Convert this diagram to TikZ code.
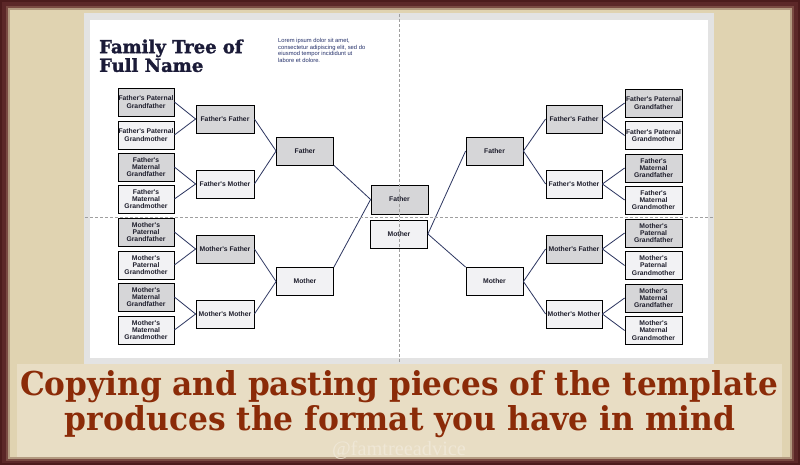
\documentclass[tikz,border=0pt]{standalone}
\usepackage{fontspec}
\setmainfont{Liberation Serif}
\newfontfamily\boxfont{Liberation Sans}
\newfontfamily\titlefont[BoldFeatures={FakeBold=1.6}]{DejaVu Serif}
\newfontfamily\capfont{DejaVu Serif}
\definecolor{maroonA}{HTML}{4C1B1C}
\definecolor{maroonB}{HTML}{5C2728}
\definecolor{maroonC}{HTML}{7A4A42}
\definecolor{maroonD}{HTML}{B39A80}
\definecolor{beigebg}{HTML}{E0D3B1}
\definecolor{bandbg}{HTML}{E8DDC4}
\definecolor{framegray}{HTML}{E3E3E3}
\definecolor{malefill}{HTML}{D6D6D8}
\definecolor{femfill}{HTML}{F2F2F4}
\definecolor{boxtext}{HTML}{1E1E2C}
\definecolor{linkcol}{HTML}{2C3560}
\definecolor{titlecol}{HTML}{1B1B38}
\definecolor{loremcol}{HTML}{24306A}
\definecolor{capcol}{HTML}{8B2B08}
\definecolor{wmcol}{HTML}{EFE7D6}
\begin{document}
\begin{tikzpicture}[x=1pt,y=-1pt,
  basebox/.style={draw=black, line width=0.8pt, minimum width=56pt, minimum height=28pt,
    inner sep=0pt, align=center, text=boxtext,
    font=\boxfont\bfseries\fontsize{6.8}{7.4}\selectfont},
  malebox/.style={basebox, fill=malefill},
  femalebox/.style={basebox, fill=femfill},
  link/.style={draw=linkcol, line width=0.8pt},
  guide/.style={draw=gray!75, line width=0.5pt, dash pattern=on 3pt off 2pt}]
\useasboundingbox (0,0) rectangle (800,465);
% border and background
\fill[maroonA] (0,0) rectangle (800,465);
\fill[maroonB] (2,2) rectangle (798,463);
\fill[maroonC] (6,6) rectangle (794,461);
\fill[maroonD] (8,8) rectangle (792,459);
\fill[beigebg] (10,10) rectangle (790,457);
% page
\fill[framegray] (84,13) rectangle (714,364);
\fill[white] (90,20) rectangle (708,358);
% title and lorem
\node[anchor=north west, inner sep=0pt, align=left, text=titlecol, font=\titlefont\bfseries\fontsize{18}{15.2}\selectfont] (title) at (99,39.3) {Family Tree of\\Full Name};
\node[anchor=north west, inner sep=0pt, align=left, text=loremcol, font=\boxfont\fontsize{5.8}{6.5}\selectfont] (lorem) at (278,38.5) {Lorem ipsum dolor sit amet,\\consectetur adipiscing elit, sed do\\eiusmod tempor incididunt ut\\labore et dolore.};
% left great-grandparents
\node[malebox] (l1) at (146,102) {Father's Paternal\\Grandfather};
\node[femalebox] (l2) at (146,135) {Father's Paternal\\Grandmother};
\node[malebox] (l3) at (146,167) {Father's\\Maternal\\Grandfather};
\node[femalebox] (l4) at (146,199) {Father's\\Maternal\\Grandmother};
\node[malebox] (l5) at (146,232) {Mother's\\Paternal\\Grandfather};
\node[femalebox] (l6) at (146,265) {Mother's\\Paternal\\Grandmother};
\node[malebox] (l7) at (146,297) {Mother's\\Maternal\\Grandfather};
\node[femalebox] (l8) at (146,330) {Mother's\\Maternal\\Grandmother};
% left grandparents
\node[malebox, minimum width=58pt] (lg1) at (225,119) {Father's Father};
\node[femalebox, minimum width=58pt] (lg2) at (225,184) {Father's Mother};
\node[malebox, minimum width=58pt] (lg3) at (225,249) {Mother's Father};
\node[femalebox, minimum width=58pt] (lg4) at (225,314) {Mother's Mother};
% left parents
\node[malebox, minimum width=57pt] (lp1) at (305,151) {Father};
\node[femalebox, minimum width=57pt] (lp2) at (305,281.5) {Mother};
% centre
\node[malebox, minimum width=57pt, minimum height=29pt] (cf) at (399.5,199.5) {Father};
\node[femalebox, minimum width=57pt] (cm) at (399,234) {Mother};
% right parents
\node[malebox, minimum width=57pt] (rp1) at (494.5,151) {Father};
\node[femalebox, minimum width=57pt] (rp2) at (494.5,281.5) {Mother};
% right grandparents
\node[malebox] (rg1) at (574,119) {Father's Father};
\node[femalebox] (rg2) at (574,184) {Father's Mother};
\node[malebox] (rg3) at (574,249) {Mother's Father};
\node[femalebox] (rg4) at (574,314) {Mother's Mother};
% right great-grandparents
\node[malebox, minimum width=57pt] (r1) at (653.5,103) {Father's Paternal\\Grandfather};
\node[femalebox, minimum width=57pt] (r2) at (653.5,135.5) {Father's Paternal\\Grandmother};
\node[malebox, minimum width=57pt] (r3) at (653.5,168) {Father's\\Maternal\\Grandfather};
\node[femalebox, minimum width=57pt] (r4) at (653.5,200) {Father's\\Maternal\\Grandmother};
\node[malebox, minimum width=57pt] (r5) at (653.5,233) {Mother's\\Paternal\\Grandfather};
\node[femalebox, minimum width=57pt] (r6) at (653.5,265.5) {Mother's\\Paternal\\Grandmother};
\node[malebox, minimum width=57pt] (r7) at (653.5,298) {Mother's\\Maternal\\Grandfather};
\node[femalebox, minimum width=57pt] (r8) at (653.5,330.5) {Mother's\\Maternal\\Grandmother};
% connectors left
\draw[link] (l1.east) -- (lg1.west);
\draw[link] (l2.east) -- (lg1.west);
\draw[link] (l3.east) -- (lg2.west);
\draw[link] (l4.east) -- (lg2.west);
\draw[link] (l5.east) -- (lg3.west);
\draw[link] (l6.east) -- (lg3.west);
\draw[link] (l7.east) -- (lg4.west);
\draw[link] (l8.east) -- (lg4.west);
\draw[link] (lg1.east) -- (lp1.west);
\draw[link] (lg2.east) -- (lp1.west);
\draw[link] (lg3.east) -- (lp2.west);
\draw[link] (lg4.east) -- (lp2.west);
\draw[link] (lp1.south east) -- (cf.west);
\draw[link] (lp2.north east) -- (cf.west);
% connectors right
\draw[link] (cm.east) -- (rp1.west);
\draw[link] (cm.east) -- (rp2.north west);
\draw[link] (rp1.east) -- (rg1.west);
\draw[link] (rp1.east) -- (rg2.west);
\draw[link] (rp2.east) -- (rg3.west);
\draw[link] (rp2.east) -- (rg4.west);
\draw[link] (rg1.east) -- (r1.west);
\draw[link] (rg1.east) -- (r2.west);
\draw[link] (rg2.east) -- (r3.west);
\draw[link] (rg2.east) -- (r4.west);
\draw[link] (rg3.east) -- (r5.west);
\draw[link] (rg3.east) -- (r6.west);
\draw[link] (rg4.east) -- (r7.west);
\draw[link] (rg4.east) -- (r8.west);
% guides
\coordinate (vtop) at (399,14);
\coordinate (vbot) at (399,364);
\coordinate (hl) at (85,217);
\coordinate (hr) at (713,217);
\draw[guide] (vtop) -- (vbot);
\draw[guide] (hl) -- (hr);
% caption band
\fill[bandbg] (17,364) rectangle (782,457);
\node[anchor=base, inner sep=0pt, text=wmcol] (wm) at (399,455) {\resizebox{134pt}{!}{\fontsize{15}{15}\selectfont @famtreeadvice}};
\node[anchor=base, inner sep=0pt, text=capcol] (cap1) at (399,395) {\resizebox{758pt}{25pt}{\capfont\bfseries\fontsize{35}{35}\selectfont Copying and pasting pieces of the template}};
\node[anchor=base, inner sep=0pt, text=capcol] (cap2) at (400,430.5) {\resizebox{670pt}{25pt}{\capfont\bfseries\fontsize{35}{35}\selectfont produces the format you have in mind}};
\end{tikzpicture}
\end{document}
